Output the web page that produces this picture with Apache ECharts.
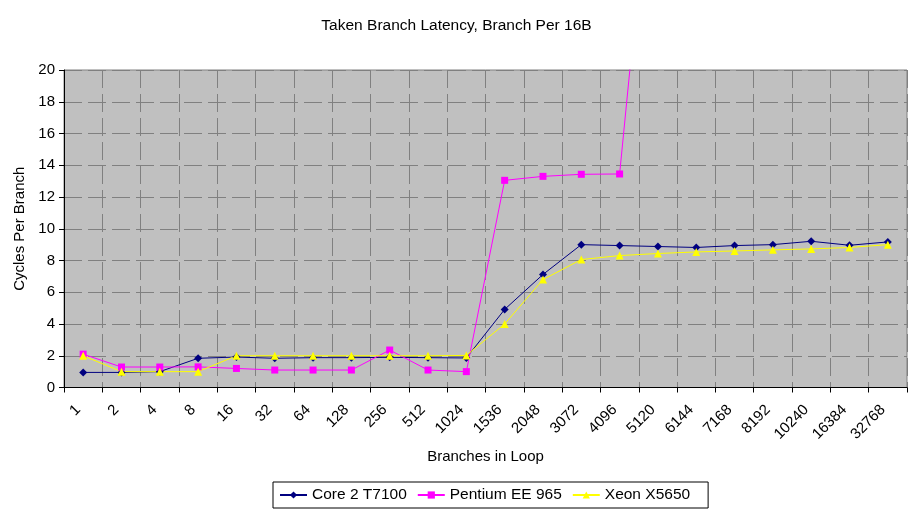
<!DOCTYPE html>
<html>
<head>
<meta charset="utf-8">
<script src="https://cdn.jsdelivr.net/npm/echarts@6/dist/echarts.min.js"></script>
<style>
html,body{margin:0;padding:0;background:#fff;}
#main{width:913px;height:513px;}
</style>
</head>
<body>
<div id="main"></div>
<script>
var categories = ['1','2','4','8','16','32','64','128','256','512','1024','1536','2048','3072','4096','5120','6144','7168','8192','10240','16384','32768'];
var core2 = [0.95,0.95,1.0,1.84,1.92,1.84,1.88,1.88,1.9,1.88,1.86,4.92,7.12,9.0,8.94,8.88,8.82,8.94,9.0,9.21,8.96,9.17];
var pentium = [2.1,1.29,1.29,1.3,1.2,1.1,1.1,1.1,2.36,1.1,1.0,13.05,13.3,13.43,13.45,38,null,null,null,null,null,null];
var xeon = [2.0,1.0,1.0,1.0,2.0,2.0,2.0,2.0,2.0,2.0,2.02,4.0,6.8,8.06,8.31,8.44,8.54,8.6,8.67,8.73,8.82,9.0];
var yTicks = {min:0, max:20, interval:2};
var seriesNames = ['Core 2 T7100','Pentium EE 965','Xeon X5650'];

var font = 'Liberation Sans, Arial, sans-serif';
var chart = echarts.init(document.getElementById('main'));
var dash = {color:'#808080', width:1, type:[18,6]};
chart.setOption({
  animation:false,
  backgroundColor:'#ffffff',
  title:{text:'Taken Branch Latency, Branch Per 16B', left:'center', top:13,
    textStyle:{fontFamily:font, fontSize:15.5, fontWeight:'normal', color:'#000'}},
  grid:{left:64, right:6, top:70, bottom:125.5, show:true, backgroundColor:'#C0C0C0', borderColor:'#808080', borderWidth:1},
  legend:{left:273, top:482, orient:'horizontal', data:seriesNames,
    itemWidth:27, itemHeight:9, itemGap:10, padding:[5,18,5,6],
    borderColor:'#000', borderWidth:1, backgroundColor:'#fff',
    textStyle:{fontFamily:font, fontSize:15.5, color:'#000'}},
  xAxis:{type:'category', data:categories, boundaryGap:true,
    name:'Branches in Loop', nameLocation:'middle', nameGap:62,
    nameTextStyle:{fontFamily:font, fontSize:15, color:'#000'},
    axisLine:{lineStyle:{color:'#000', width:1}},
    axisTick:{show:true, interval:0, length:5, alignWithLabel:false, lineStyle:{color:'#000'}},
    axisLabel:{interval:0, rotate:45, margin:15, padding:[0,7,0,0], fontFamily:font, fontSize:15, color:'#000'},
    splitLine:{show:true, interval:0, lineStyle:dash}},
  yAxis:{type:'value', min:yTicks.min, max:yTicks.max, interval:yTicks.interval,
    name:'Cycles Per Branch', nameLocation:'middle', nameGap:37, nameRotate:90,
    nameTextStyle:{fontFamily:font, fontSize:15, color:'#000'},
    axisLine:{show:true, lineStyle:{color:'#000', width:1}},
    axisTick:{show:true, length:5, lineStyle:{color:'#000'}},
    axisLabel:{margin:9, fontFamily:font, fontSize:15, color:'#000'},
    splitLine:{show:true, lineStyle:dash}},
  series:[
    {name:seriesNames[0], type:'line', data:core2, symbol:'diamond', symbolSize:8,
      itemStyle:{color:'#000080'}, lineStyle:{color:'#000080', width:1}, clip:true},
    {name:seriesNames[1], type:'line', data:pentium, symbol:'rect', symbolSize:7,
      itemStyle:{color:'#FF00FF'}, lineStyle:{color:'#FF00FF', width:1}, clip:true},
    {name:seriesNames[2], type:'line', data:xeon, symbol:'triangle', symbolSize:8,
      itemStyle:{color:'#FFFF00'}, lineStyle:{color:'#FFFF00', width:1}, clip:true}
  ]
});
</script>
</body>
</html>
